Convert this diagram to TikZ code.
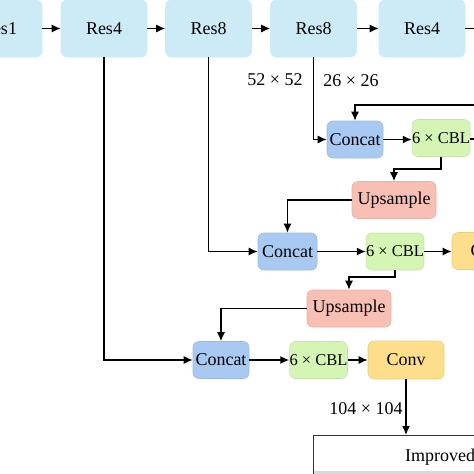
\documentclass[tikz,border=0pt]{standalone}
\usepackage{fontspec}
\setmainfont{Liberation Serif}
\usetikzlibrary{arrows.meta}
\definecolor{resc}{RGB}{205,234,247}
\definecolor{concatc}{RGB}{168,202,242}
\definecolor{cblc}{RGB}{213,245,181}
\definecolor{upc}{RGB}{248,192,180}
\definecolor{convc}{RGB}{253,222,138}
\tikzset{
  box/.style={rounded corners=6pt, inner sep=0pt, font=\fontsize{18}{20}\selectfont, line width=0.6pt},
  resbox/.style={box, fill=resc, draw=resc, minimum width=86pt, minimum height=57pt},
  concatbox/.style={box, fill=concatc, draw=concatc!92!black, minimum width=56pt, minimum height=37pt},
  cblbox/.style={box, fill=cblc, draw=cblc!92!black, minimum width=56pt, minimum height=37pt, font=\fontsize{16.5}{18}\selectfont},
  upbox/.style={box, fill=upc, draw=upc!92!black, minimum width=84pt, minimum height=37pt},
  convbox/.style={box, fill=convc, draw=convc!92!black, minimum width=76pt, minimum height=37pt},
  lbl/.style={font=\fontsize{18}{20}\selectfont, inner sep=0pt},
  arr/.style={-{Latex[length=9pt,width=8pt]}, line width=1.3pt},
  ln/.style={line width=1.3pt}
}
\begin{document}
\begin{tikzpicture}[x=1pt,y=-1pt]
\useasboundingbox (0,0) rectangle (474,474);
\clip (0,0) rectangle (474,474);
% top row
\node[resbox] (res1) at (-1,28.5) {Res1};
\node[resbox] (res4) at (104,28.5) {Res4};
\node[resbox] (res8) at (208.5,28.5) {Res8};
\node[resbox] (res8b) at (313.5,28.5) {Res8};
\node[resbox] (res4b) at (422,28.5) {Res4};
\coordinate (outtop) at (500,28.5);
\draw[arr] (res1) -- (res4);
\draw[arr] (res4) -- (res8);
\draw[arr] (res8) -- (res8b);
\draw[arr] (res8b) -- (res4b);
\draw[ln] (res4b) -- (outtop);
% labels
\node[lbl] (l52) at (275,80) {52 × 52};
\node[lbl] (l26) at (351,81) {26 × 26};
\node[lbl] (l104) at (366,409) {104 × 104};
% first branch
\node[concatbox] (cc1) at (355,139.5) {Concat};
\node[cblbox] (cbl1) at (441,138) {6 × CBL};
\node[upbox] (up1) at (394,200) {Upsample};
\coordinate (in1) at (500,105);
\coordinate (out1) at (500,139);
\draw[arr] (in1) -| (cc1.north);
\draw[arr] (res8b.south) |- (cc1.west);
\draw[arr] (cc1.east) -- (cc1.east -| cbl1.west);
\draw[ln] (cbl1.east |- out1) -- (out1);
\draw[arr] (cbl1.south) -- (cbl1.south |- 0,169) -| (up1.north);
% second branch
\node[concatbox, minimum width=59pt] (cc2) at (287.5,251.5) {Concat};
\node[cblbox] (cbl2) at (395,251.5) {6 × CBL};
\node[convbox] (conv2) at (490,251) {Conv};
\node[upbox] (up2) at (349,308.5) {Upsample};
\draw[arr] (up1.west) -| (cc2.north);
\draw[arr] (res8.south) |- (cc2.west);
\draw[arr] (cc2) -- (cbl2);
\draw[arr] (cbl2.east) -- (cbl2.east -| conv2.west);
\draw[arr] (cbl2.south) -- (cbl2.south |- 0,277) -| (up2.north);
% third branch
\node[concatbox] (cc3) at (221,360) {Concat};
\node[cblbox] (cbl3) at (318.5,360) {6 × CBL};
\node[convbox, minimum height=38pt] (conv3) at (406,360) {Conv};
\draw[arr] (up2.west) -| (cc3.north);
\draw[arr] (res4.south) |- (cc3.west);
\draw[arr] (cc3) -- (cbl3);
\draw[arr] (cbl3) -- (conv3);
% improved box
\node[draw=black!80, line width=1.3pt, anchor=north west, minimum width=300pt, minimum height=80pt, inner sep=0pt] (imp) at (313,435) {};
\fill[black!15] (314,471) rectangle (474,480);
\node[lbl, anchor=west] (imptext) at (405,457) {Improved};
\draw[arr] (conv3.south) -- (conv3.south |- imp.north);
\end{tikzpicture}
\end{document}
